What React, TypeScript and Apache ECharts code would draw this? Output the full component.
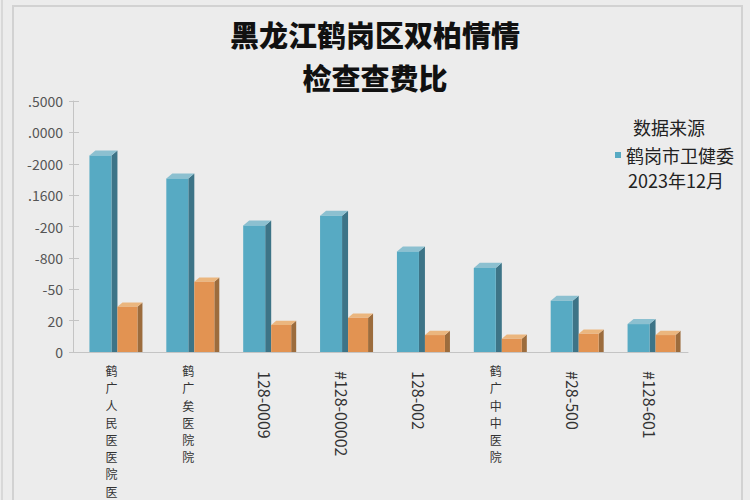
import * as echarts from "echarts"
import { useEffect, useRef } from "react"

const categories = [
  "鹤广人民医医院医",
  "鹤广矣医院院",
  "128-0009",
  "#128-00002",
  "128-002",
  "鹤广中中医院",
  "#28-500",
  "#128-601",
]
const yTickLabels = ["0", "20", "-50", "-800", "-200", ".1600", "-2000", ".0000", ".5000"]
const blueValues = [6.26, 5.53, 4.03, 4.34, 3.2, 2.68, 1.63, 0.89]
const orangeValues = [1.44, 2.24, 0.86, 1.09, 0.54, 0.42, 0.58, 0.54]

const FONT = "'Noto Sans CJK SC', 'Noto Sans', sans-serif"
const isCjk = (s: string) => /[\u4e00-\u9fff]/.test(s)

// 3D-looking bar: front face, side face and top cap
const makeBar = (
  offset: number,
  width: number,
  depth: number,
  colors: { front: string; side: string; top: string }
) => (params: any, api: any) => {
  const x = api.value(0)
  const v = api.value(1)
  const base = api.coord([x, 0])
  const top = api.coord([x, v])
  const l = base[0] + offset
  const r = l + width
  const yT = top[1]
  const yB = base[1]
  const dy = depth * 0.85
  return {
    type: "group",
    children: [
      {
        type: "polygon",
        shape: { points: [[r, yT], [r + depth, yT - dy], [r + depth, yB], [r, yB]] },
        style: { fill: colors.side },
      },
      {
        type: "polygon",
        shape: { points: [[l, yT], [l + depth, yT - dy], [r + depth, yT - dy], [r, yT]] },
        style: { fill: colors.top },
      },
      {
        type: "rect",
        shape: { x: l, y: yT, width, height: yB - yT },
        style: { fill: colors.front },
      },
    ],
  }
}

export default function App() {
  const chartRef = useRef<HTMLDivElement>(null)

  useEffect(() => {
    if (!chartRef.current) return
    const chart = echarts.init(chartRef.current, null, { renderer: "svg" })

    const option: any = {
      animation: false,
      backgroundColor: "#ececec",
      textStyle: { fontFamily: FONT },
      title: {
        text: "黑龙江鹤岗区双柏情情\n检查查费比",
        left: "center",
        top: 8,
        padding: [5, 21, 5, 5],
        textStyle: {
          fontFamily: FONT,
          fontSize: 29,
          fontWeight: 900,
          lineHeight: 42.5,
          color: "#111",
        },
      },
      legend: {
        data: ["鹤岗市卫健委"],
        left: 610,
        top: 141,
        icon: "rect",
        itemWidth: 6,
        itemHeight: 6,
        textStyle: { fontFamily: FONT, fontSize: 18, color: "#222" },
      },
      graphic: [
        {
          type: "rect",
          shape: { x: 13, y: 6, width: 729, height: 520 },
          style: { fill: "none", stroke: "#d2d2d2", lineWidth: 2 },
          silent: true,
        },
        {
          type: "line",
          shape: { x1: 2, y1: 0, x2: 2, y2: 500 },
          style: { stroke: "#d8d8d8", lineWidth: 2 },
          silent: true,
        },
        {
          type: "text",
          x: 633,
          y: 127,
          style: { text: "数据来源", fontFamily: FONT, fontSize: 18, fill: "#222", verticalAlign: "middle" },
        },
        {
          type: "text",
          x: 628,
          y: 180,
          style: { text: "2023年12月", fontFamily: FONT, fontSize: 18, fill: "#222", verticalAlign: "middle" },
        },
      ],
      grid: { left: 73, right: 62, top: 101, bottom: 148, containLabel: false },
      xAxis: {
        type: "category",
        data: categories,
        axisLine: { lineStyle: { color: "#c4c4c4" } },
        axisTick: { alignWithLabel: true, length: 6, lineStyle: { color: "#c4c4c4" } },
        axisLabel: { show: false },
      },
      yAxis: [
        {
          type: "value",
          min: 0,
          max: 8,
          interval: 1,
          axisLine: { show: true, lineStyle: { color: "#c4c4c4" } },
          axisTick: { show: true, length: 4, lineStyle: { color: "#c4c4c4" } },
          splitLine: { show: false },
          axisLabel: {
            margin: 10,
            fontFamily: FONT,
            fontSize: 14,
            color: "#555",
            formatter: (v: number) => yTickLabels[v] ?? "",
          },
        },
        {
          type: "value",
          position: "left",
          min: 0,
          max: 8,
          interval: 1,
          axisLine: { show: false },
          axisTick: { show: true, inside: true, length: 6, lineStyle: { color: "#c4c4c4" } },
          axisLabel: { show: false },
          splitLine: { show: false },
        },
      ],
      series: [
        {
          name: "鹤岗市卫健委",
          type: "custom",
          itemStyle: { color: "#57aac3" },
          renderItem: makeBar(-22, 22, 6, { front: "#57aac3", side: "#3d7487", top: "#8cc0d0" }),
          data: blueValues.map((v, i) => [i, v]),
        },
        {
          name: "检查费",
          type: "custom",
          itemStyle: { color: "#e29352" },
          renderItem: makeBar(6, 20, 5, { front: "#e29352", side: "#9c6c3d", top: "#ebb67e" }),
          data: orangeValues.map((v, i) => [i, v]),
        },
        {
          name: "labels",
          type: "custom",
          silent: true,
          renderItem: (params: any, api: any) => {
            const label = categories[params.dataIndex]
            const p = api.coord([api.value(0), 0])
            if (isCjk(label)) {
              return {
                type: "text",
                x: p[0],
                y: p[1] + 10,
                style: {
                  text: label.split("").join("\n"),
                  fontFamily: FONT,
                  fontSize: 12,
                  lineHeight: 17.2,
                  fill: "#333",
                  align: "center",
                  verticalAlign: "top",
                },
              }
            }
            return {
              type: "text",
              x: p[0],
              y: p[1] + 19,
              rotation: -Math.PI / 2,
              style: {
                text: label,
                fontFamily: FONT,
                fontSize: 16,
                fill: "#333",
                align: "left",
                verticalAlign: "middle",
              },
            }
          },
          data: categories.map((_, i) => [i, 0]),
        },
      ],
    }

    chart.setOption(option)
    return () => {
      chart.dispose()
    }
  }, [])

  return (
    <div
      ref={chartRef}
      style={{ position: "fixed", left: 0, top: 0, width: 750, height: 500 }}
    />
  )
}
